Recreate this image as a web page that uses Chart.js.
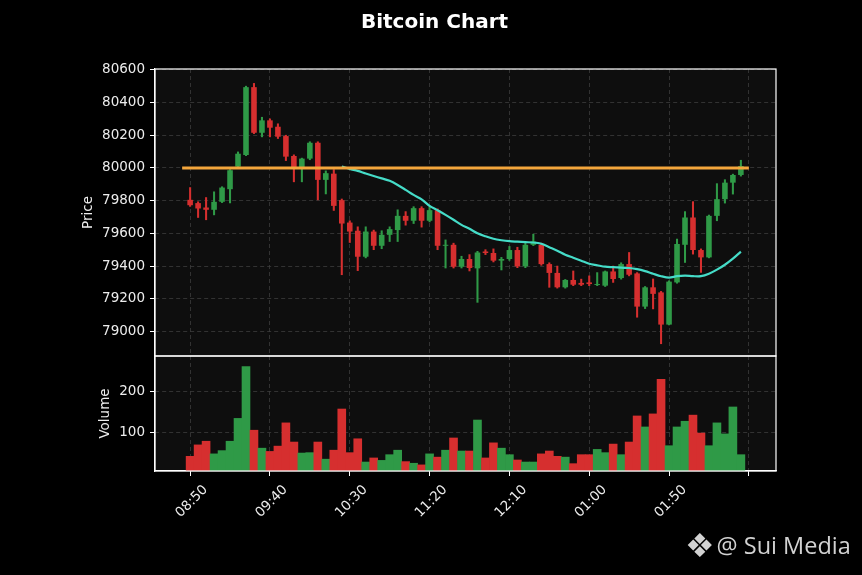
<!DOCTYPE html>
<html lang="en">
<head>
    <meta charset="UTF-8">
    <title>Bitcoin Chart</title>
    <script src="https://cdn.jsdelivr.net/npm/chart.js"></script>
    <style>
        body {
            margin: 0;
            background-color: #000;
            font-family: "DejaVu Sans", sans-serif;
        }
        .wrap {
            position: relative;
            width: 862px;
            height: 575px;
        }
        canvas {
            background: #000;
        }
        h1 {
            position: absolute;
            left: 0;
            top: 9px;
            width: 869px;
            margin: 0;
            text-align: center;
            color: #fff;
            font-family: "DejaVu Sans", sans-serif;
            font-size: 20px;
            font-weight: bold;
            line-height: 24px;
        }
        .mark {
            position: absolute;
            left: 685px;
            top: 529px;
            color: #d2d2d2;
            font-family: "Open Sans", sans-serif;
            font-size: 23.5px;
            white-space: nowrap;
        }
        .mark .logo {
            font-family: "DejaVu Sans", sans-serif;
            font-size: 33px;
            line-height: 20px;
            vertical-align: -3px;
            margin-right: 2px;
        }
    </style>
</head>
<body>
    <div class="wrap">
        <canvas id="btcChart" width="862" height="575"></canvas>
        <h1>Bitcoin Chart</h1>
        <div class="mark"><span class="logo">&#10070;</span>@ Sui Media</div>
    </div>
    <script>
        // 5-minute candles, index 0 = 08:50
        const opens  = [79805, 79785, 79758, 79744, 79793, 79870, 80008, 80079, 80494, 80215,
                        80291, 80252, 80195, 80073, 80002, 80057, 80154, 79927, 79965, 79803,
                        79666, 79616, 79457, 79611, 79524, 79591, 79620, 79707, 79677, 79754,
                        79677, 79742, 79524, 79530, 79396, 79443, 79386, 79489, 79480, 79433,
                        79443, 79498, 79398, 79530, 79530, 79412, 79358, 79270, 79315, 79297,
                        79300, 79284, 79280, 79367, 79327, 79412, 79355, 79152, 79270, 79239,
                        79042, 79300, 79530, 79697, 79498, 79453, 79707, 79809, 79910, 79957];
        const highs  = [79880, 79793, 79819, 79854, 79885, 79990, 80098, 80500, 80517, 80310,
                        80300, 80270, 80200, 80080, 80060, 80160, 80160, 79982, 79990, 79810,
                        79677, 79640, 79640, 79620, 79616, 79640, 79744, 79733, 79763, 79763,
                        79763, 79750, 79560, 79540, 79460, 79470, 79490, 79500, 79505, 79453,
                        79520, 79515, 79540, 79595, 79540, 79420, 79400, 79318, 79370, 79320,
                        79340, 79360, 79370, 79400, 79420, 79483, 79360, 79275, 79321, 79245,
                        79310, 79565, 79733, 79794, 79505, 79712, 79904, 79928, 79962, 80047];
        const lows   = [79765, 79697, 79683, 79713, 79788, 79786, 80000, 80075, 80210, 80190,
                        80190, 80180, 80045, 79915, 79915, 80050, 79805, 79841, 79740, 79347,
                        79544, 79372, 79450, 79500, 79506, 79550, 79550, 79650, 79660, 79638,
                        79670, 79500, 79388, 79388, 79388, 79370, 79178, 79470, 79425, 79376,
                        79435, 79390, 79390, 79525, 79405, 79270, 79265, 79265, 79280, 79280,
                        79280, 79280, 79275, 79300, 79320, 79340, 79087, 79140, 79138, 78925,
                        79040, 79295, 79422, 79473, 79361, 79450, 79677, 79785, 79840, 79950];
        const closes = [79772, 79752, 79744, 79793, 79880, 79986, 80087, 80494, 80215, 80291,
                        80246, 80191, 80069, 79996, 80057, 80154, 79927, 79968, 79768, 79660,
                        79611, 79457, 79611, 79524, 79591, 79626, 79707, 79677, 79754, 79677,
                        79742, 79524, 79530, 79396, 79443, 79388, 79483, 79480, 79433, 79443,
                        79498, 79398, 79530, 79550, 79412, 79358, 79270, 79315, 79286, 79286,
                        79290, 79290, 79367, 79321, 79412, 79347, 79152, 79270, 79230, 79042,
                        79305, 79535, 79697, 79498, 79453, 79707, 79809, 79910, 79957, 80012];
        const volumes = [41, 69, 78, 47, 55, 78, 134, 261, 105, 61,
                         53, 66, 123, 76, 49, 50, 76, 34, 56, 157,
                         50, 84, 27, 37, 31, 45, 56, 28, 24, 20,
                         47, 39, 56, 86, 54, 54, 130, 37, 74, 61,
                         45, 32, 27, 27, 47, 54, 41, 39, 23, 45,
                         45, 58, 50, 71, 45, 76, 140, 113, 145, 230,
                         67, 113, 127, 142, 98, 67, 123, 96, 162, 45];

        // moving average line, first point at candle 19
        const maStart = 19;
        const maValues = [80009, 79994, 79982, 79966, 79951, 79936, 79921, 79896, 79866, 79835,
                          79808, 79768, 79741, 79713, 79683, 79652, 79628, 79600, 79582, 79567,
                          79558, 79552, 79549, 79546, 79544, 79536, 79515, 79494, 79469, 79451,
                          79433, 79414, 79405, 79396, 79393, 79390, 79388, 79381, 79369, 79353,
                          79338, 79329, 79338, 79341, 79338, 79338, 79353, 79378, 79408, 79445,
                          79488];

        const levelPrice = 80000;
        const levelFrom = -1;
        const levelTo = 70;

        const timeTicks = [0, 10, 20, 30, 40, 50, 60, 70];
        const timeLabels = ["08:50", "09:40", "10:30", "11:20", "12:10", "01:00", "01:50", ""];
        const priceTicks = [79000, 79200, 79400, 79600, 79800, 80000, 80200, 80400, 80600];
        const volumeTicks = [100, 200];

        const upColor = "#2f9a47";
        const downColor = "#d62f2f";
        const textColor = "#ececec";
        const gridColor = "#3c3c3c";
        const tickFont = { family: "DejaVu Sans", size: 13.5 };

        const idx = opens.map((o, i) => i);
        const candleColors = idx.map(i => closes[i] >= opens[i] ? upColor : downColor);

        // dark plot background + white frame around each panel
        const panelFrame = {
            id: "panelFrame",
            beforeDraw(chart) {
                const { ctx, chartArea: a } = chart;
                ctx.save();
                ctx.fillStyle = "#0e0e0e";
                ctx.fillRect(a.left, a.top, a.width, a.height);
                ctx.restore();
            },
            afterDatasetsDraw(chart) {
                const { ctx, chartArea: a, scales } = chart;
                ctx.save();
                ctx.strokeStyle = "#ffffff";
                ctx.lineWidth = 1.2;
                ["y", "yVol"].forEach(id => {
                    const s = scales[id];
                    ctx.strokeRect(a.left, s.top, a.width, s.bottom - s.top);
                });
                ctx.restore();
            }
        };

        function gridOpts() {
            return {
                color: gridColor,
                lineWidth: 0.8,
                tickColor: "#ffffff",
                tickLength: 5,
                tickWidth: 1,
                tickBorderDash: [],
                offset: false
            };
        }

        const ctx = document.getElementById("btcChart").getContext("2d");
        new Chart(ctx, {
            type: "bar",
            data: {
                datasets: [
                    {
                        type: "line",
                        label: "Level",
                        data: [{ x: levelFrom, y: levelPrice }, { x: levelTo, y: levelPrice }],
                        borderColor: "#f4a63c",
                        borderWidth: 3,
                        pointRadius: 0,
                        yAxisID: "y",
                        order: 0
                    },
                    {
                        type: "line",
                        label: "MA",
                        data: maValues.map((v, k) => ({ x: maStart + k, y: v })),
                        borderColor: "#45dcc8",
                        borderWidth: 2.2,
                        pointRadius: 0,
                        tension: 0.3,
                        yAxisID: "y",
                        order: 1
                    },
                    {
                        label: "Body",
                        data: idx.map(i => ({ x: i, y: [opens[i], closes[i]] })),
                        backgroundColor: candleColors,
                        categoryPercentage: 1,
                        barPercentage: 0.7,
                        grouped: false,
                        yAxisID: "y",
                        order: 3
                    },
                    {
                        label: "Wick",
                        data: idx.map(i => ({ x: i, y: [lows[i], highs[i]] })),
                        backgroundColor: candleColors,
                        barThickness: 1.4,
                        grouped: false,
                        yAxisID: "y",
                        order: 4
                    },
                    {
                        label: "Volume",
                        data: idx.map(i => ({ x: i, y: volumes[i] })),
                        backgroundColor: candleColors,
                        categoryPercentage: 1,
                        barPercentage: 1,
                        grouped: false,
                        yAxisID: "yVol",
                        order: 3
                    }
                ]
            },
            options: {
                responsive: false,
                animation: false,
                layout: { padding: { left: 70, right: 86, top: 69, bottom: 0 } },
                plugins: {
                    legend: { display: false },
                    tooltip: { enabled: false },
                    title: { display: false }
                },
                scales: {
                    x: {
                        type: "linear",
                        min: -4.4,
                        max: 73.4,
                        offset: false,
                        afterBuildTicks: s => { s.ticks = timeTicks.map(v => ({ value: v })); },
                        afterFit: s => { s.height = 104; },
                        ticks: {
                            callback: (v) => timeLabels[timeTicks.indexOf(v)],
                            color: textColor,
                            font: tickFont,
                            autoSkip: false,
                            maxRotation: 45,
                            minRotation: 45,
                            labelOffset: 15.5,
                            padding: 6
                        },
                        grid: gridOpts(),
                        border: { color: "#ffffff", width: 1.2, dash: [4, 3] }
                    },
                    yVol: {
                        type: "linear",
                        position: "left",
                        stack: "panels",
                        stackWeight: 115,
                        min: 5,
                        max: 287,
                        beginAtZero: false,
                        afterBuildTicks: s => { s.ticks = volumeTicks.map(v => ({ value: v })); },
                        afterFit: s => { s.width = 85; },
                        ticks: { color: textColor, font: tickFont, padding: 5, callback: v => String(v) },
                        title: {
                            display: true,
                            text: "Volume",
                            color: textColor,
                            font: tickFont,
                            padding: { top: 27, bottom: 0 }
                        },
                        grid: gridOpts(),
                        border: { color: "#ffffff", width: 1.2, dash: [4, 3] }
                    },
                    y: {
                        type: "linear",
                        position: "left",
                        stack: "panels",
                        stackWeight: 287,
                        min: 78850,
                        max: 80605,
                        beginAtZero: false,
                        afterBuildTicks: s => { s.ticks = priceTicks.map(v => ({ value: v })); },
                        afterFit: s => { s.width = 85; },
                        ticks: { color: textColor, font: tickFont, padding: 5, callback: v => String(v) },
                        title: {
                            display: true,
                            text: "Price",
                            color: textColor,
                            font: tickFont,
                            padding: { top: 10, bottom: 6 }
                        },
                        grid: gridOpts(),
                        border: { color: "#ffffff", width: 1.2, dash: [4, 3] }
                    }
                }
            },
            plugins: [panelFrame]
        });
    </script>
</body>
</html>
